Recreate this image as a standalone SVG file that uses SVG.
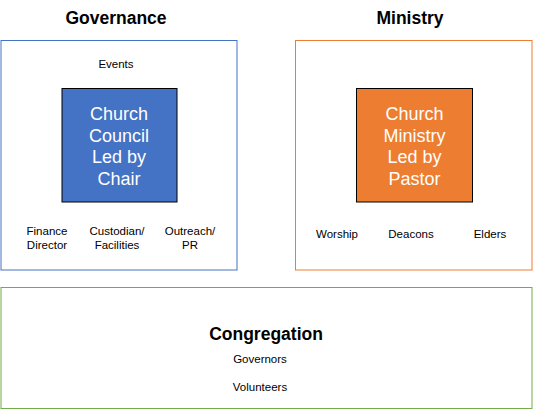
<svg xmlns="http://www.w3.org/2000/svg" width="533" height="410" viewBox="0 0 533 410">
<style>
text{font-family:"Liberation Sans",Arial,sans-serif;text-anchor:middle;dominant-baseline:central;fill:#000}
.title{font-size:17.5px;font-weight:bold}
.small{font-size:11.5px}
.inner{font-size:18px;fill:#fff}
.frame{fill:#fff;stroke-width:1}
</style>
<rect width="533" height="410" fill="#fff"/>
<g id="governance">
<rect class="frame" x="1" y="40.5" width="236" height="229.5" stroke="#4472C4"/>
<text class="title" x="116" y="18">Governance</text>
<text class="small" x="116" y="63.5">Events</text>
<text class="small" x="47" y="231">Finance</text>
<text class="small" x="47" y="245">Director</text>
<text class="small" x="117" y="231">Custodian/</text>
<text class="small" x="117" y="245">Facilities</text>
<text class="small" x="190" y="231">Outreach/</text>
<text class="small" x="190" y="245">PR</text>
</g>
<g id="council">
<rect x="62" y="88.5" width="115" height="113.5" fill="#4472C4" stroke="#000" stroke-width="1"/>
<text class="inner" x="119" y="114">Church</text>
<text class="inner" x="119" y="135.5">Council</text>
<text class="inner" x="119" y="157">Led by</text>
<text class="inner" x="119" y="178.5">Chair</text>
</g>
<g id="ministry">
<rect class="frame" x="295.5" y="40.5" width="236.5" height="229.5" stroke="#ED7D31"/>
<text class="title" x="410" y="18">Ministry</text>
<text class="small" x="337" y="234">Worship</text>
<text class="small" x="411" y="234">Deacons</text>
<text class="small" x="490" y="234">Elders</text>
</g>
<g id="church-ministry">
<rect x="356.5" y="88.5" width="116" height="113.5" fill="#ED7D31" stroke="#000" stroke-width="1"/>
<text class="inner" x="414.5" y="114">Church</text>
<text class="inner" x="414.5" y="135.5">Ministry</text>
<text class="inner" x="414.5" y="157">Led by</text>
<text class="inner" x="414.5" y="178.5">Pastor</text>
</g>
<g id="congregation">
<rect class="frame" x="1" y="287.5" width="531" height="121" stroke="#70AD47"/>
<text class="title" x="266" y="333.5">Congregation</text>
<text class="small" x="260" y="359">Governors</text>
<text class="small" x="260" y="387">Volunteers</text>
</g>
<g id="connectors"></g>
</svg>
